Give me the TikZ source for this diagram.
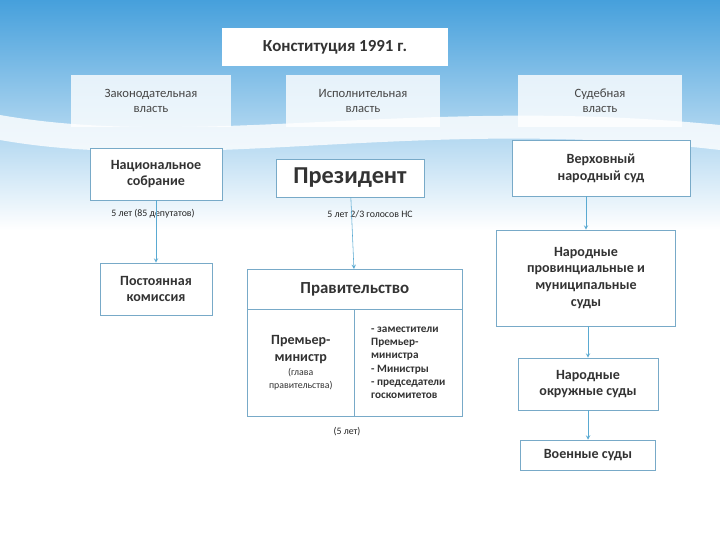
\documentclass[tikz,border=0pt]{standalone}
\usepackage{fontspec}
\setmainfont{Carlito}
\usetikzlibrary{positioning}
\definecolor{txtgray}{RGB}{70,70,70}
\definecolor{boxline}{RGB}{120,170,200}
\definecolor{arrowblue}{RGB}{90,170,210}
\definecolor{sky}{RGB}{70,160,220}
\tikzset{
  branch/.style={fill=white, fill opacity=0.8, text opacity=1, text=txtgray, font=\small, align=center, inner sep=2pt},
  organ/.style={draw=boxline, fill=white, text=black!80, font=\bfseries, align=center, inner sep=2pt},
  note/.style={font=\scriptsize, text=black!85},
  link/.style={->, >=stealth, arrowblue, thin}
}
\begin{document}
\begin{tikzpicture}[x=0.025cm, y=-0.025cm]
\useasboundingbox (0,0) rectangle (720,540);
% background
\fill[white] (0,0) rectangle (720,540);
\shade[top color=sky, middle color=sky!45!white, bottom color=white] (0,0) rectangle (720,230);
\fill[white, opacity=0.8] (0,115) .. controls (200,150) and (420,95) .. (720,125) -- (720,150) .. controls (420,115) and (200,175) .. (0,140) -- cycle;
% title and branches
\node[organ, draw=none, font=\bfseries\large, minimum width=5.65cm, minimum height=0.95cm] (title) at (335,47) {Конституция 1991 г.};
\node[branch, minimum width=4cm, minimum height=1.3cm] (leg) at (151,101) {Законодательная\\власть};
\node[branch, minimum width=3.85cm, minimum height=1.3cm] (exe) at (363,101) {Исполнительная\\власть};
\node[branch, minimum width=4.1cm, minimum height=1.3cm] (jud) at (600,101) {Судебная\\власть};
% legislative
\node[organ, minimum width=3.3cm, minimum height=1.3cm] (assembly) at (156,174) {Национальное\\собрание};
\node[note] (legterm) at (153,214) {5 лет (85 депутатов)};
\node[organ, minimum width=2.8cm, minimum height=1.3cm] (commission) at (156,289) {Постоянная\\комиссия};
% executive
\node[organ, minimum width=3.7cm, minimum height=0.95cm, font=\bfseries\LARGE] (president) at (350,178) {Президент};
\node[note] (presterm) at (370,214) {5 лет 2/3 голосов НС};
\node[organ, minimum width=5.375cm, minimum height=1cm, font=\bfseries\large, anchor=north west] (gov) at (247,269) {Правительство};
\node[organ, minimum width=2.675cm, minimum height=2.675cm, anchor=north west, font=\normalsize] (premier) at (247,309) {\bfseries Премьер-\\\bfseries министр\\[-2pt]{\mdseries\scriptsize (глава}\\[-3pt]{\mdseries\scriptsize правительства)}};
\node[organ, minimum width=2.7cm, minimum height=2.675cm, anchor=north west, font=\footnotesize\bfseries, align=left] (deputies) at (354,309) {- заместители\\Премьер-\\министра\\- Министры\\- председатели\\госкомитетов};
\node[note] (govterm) at (347,432) {(5 лет)};
% judicial
\node[organ, minimum width=4.45cm, minimum height=1.4cm] (supreme) at (601,168) {Верховный\\народный суд};
\node[organ, minimum width=4.475cm, minimum height=2.4cm] (provincial) at (586,278) {Народные\\провинциальные и\\муниципальные\\суды};
\node[organ, minimum width=3.5cm, minimum height=1.3cm] (district) at (588,384) {Народные\\окружные суды};
\node[organ, minimum width=3.375cm, minimum height=0.75cm] (military) at (588,455) {Военные суды};
% links
\draw[link] (assembly) -- (commission);
\draw[link] (president) -- (gov);
\draw[link] (supreme.south -| provincial.north) -- (provincial);
\draw[link] (provincial.south -| district.north) -- (district);
\draw[link] (district) -- (military);
\end{tikzpicture}
\end{document}
